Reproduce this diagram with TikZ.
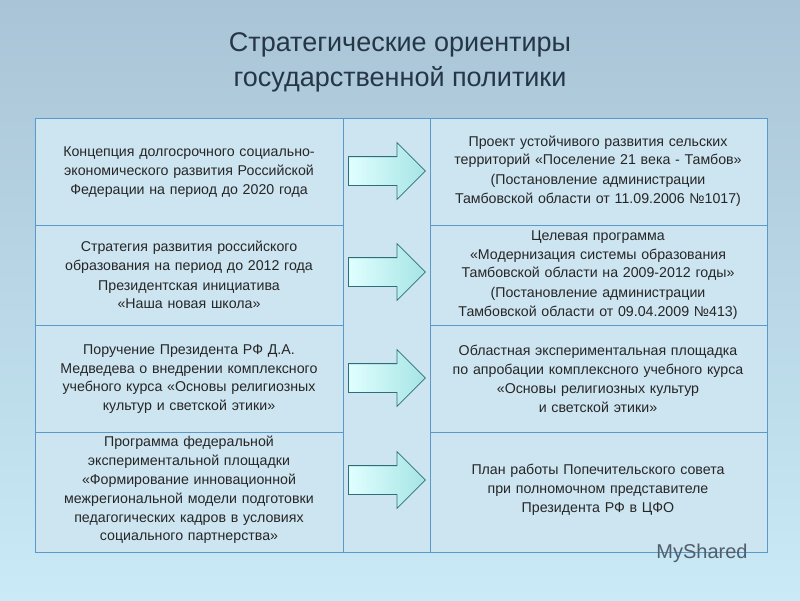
\documentclass[tikz,border=0pt]{standalone}
\usepackage{fontspec}
\setmainfont{Liberation Sans}
\usetikzlibrary{shapes.arrows}
\definecolor{bgtop}{HTML}{A9C4D6}
\definecolor{bgbot}{HTML}{C9EAF6}
\definecolor{cellfill}{HTML}{CDE5F1}
\definecolor{cellline}{HTML}{5A9ACB}
\definecolor{titlecol}{HTML}{253646}
\definecolor{arrline}{HTML}{2E6E78}
\tikzset{
  cell/.style={draw=cellline, line width=0.9pt, fill=cellfill},
  txt/.style={align=center, text width=300pt, font=\fontsize{14.2}{18.8}\selectfont, text=black!85},
  arr/.style={single arrow, draw=arrline, line width=0.8pt, left color=cyan!12!white, right color=cyan!40!teal!35, minimum height=77pt, single arrow head extend=14pt, single arrow head indent=0pt, inner sep=0pt, anchor=tail},
}
\begin{document}
\begin{tikzpicture}[x=1pt,y=-1pt]
\shade[top color=bgtop, bottom color=bgbot] (0,0) rectangle (800,600);
\useasboundingbox (0,0) rectangle (800,600);
\node[text=titlecol, font=\fontsize{27}{35}\selectfont, align=center] (title) at (400,62) {Стратегические ориентиры\\государственной политики};
\draw[cell] (35,118) rectangle (343,225) coordinate (l1);
\draw[cell] (35,225) rectangle (343,325) coordinate (l2);
\draw[cell] (35,325) rectangle (343,432) coordinate (l3);
\draw[cell] (35,432) rectangle (343,552) coordinate (l4);
\draw[cell] (343,118) rectangle (430,552) coordinate (mid);
\draw[cell] (430,118) rectangle (767,225) coordinate (r1);
\draw[cell] (430,225) rectangle (767,325) coordinate (r2);
\draw[cell] (430,325) rectangle (767,432) coordinate (r3);
\draw[cell] (430,432) rectangle (767,552) coordinate (r4);
\node[txt] (t1) at (189,172) {Концепция долгосрочного социально-\\экономического развития Российской\\Федерации на период до 2020 года};
\node[txt] (t2) at (189,275) {Стратегия развития российского\\образования на период до 2012 года\\[1pt]Президентская инициатива\\«Наша новая школа»};
\node[txt] (t3) at (189,379) {Поручение Президента РФ Д.А.\\Медведева о внедрении комплексного\\учебного курса «Основы религиозных\\культур и светской этики»};
\node[txt] (t4) at (189,490) {Программа федеральной\\экспериментальной площадки\\«Формирование инновационной\\межрегиональной модели подготовки\\педагогических кадров в условиях\\социального партнерства»};
\node[txt, text width=336pt] (s1) at (598,171) {Проект устойчивого развития сельских\\территорий «Поселение 21 века - Тамбов»\\[1pt](Постановление администрации\\Тамбовской области от 11.09.2006 №1017)};
\node[txt, text width=336pt] (s2) at (598,275) {Целевая программа\\«Модернизация системы образования\\Тамбовской области на 2009-2012 годы»\\[1pt](Постановление администрации\\Тамбовской области от 09.04.2009 №413)};
\node[txt, text width=336pt] (s3) at (598,379) {Областная экспериментальная площадка\\по апробации комплексного учебного курса\\«Основы религиозных культур\\и светской этики»};
\node[txt, text width=336pt] (s4) at (598,490) {План работы Попечительского совета\\при полномочном представителе\\Президента РФ в ЦФО};
\node[arr] (a1) at (348,171) {\rule{0pt}{28pt}};
\node[arr] (a2) at (348,272) {\rule{0pt}{28pt}};
\node[arr] (a3) at (348,378) {\rule{0pt}{28pt}};
\node[arr] (a4) at (348,480) {\rule{0pt}{28pt}};
\node[text=titlecol!80, font=\fontsize{20}{22}\selectfont] (wm) at (702,553) {MyShared};
\end{tikzpicture}
\end{document}
